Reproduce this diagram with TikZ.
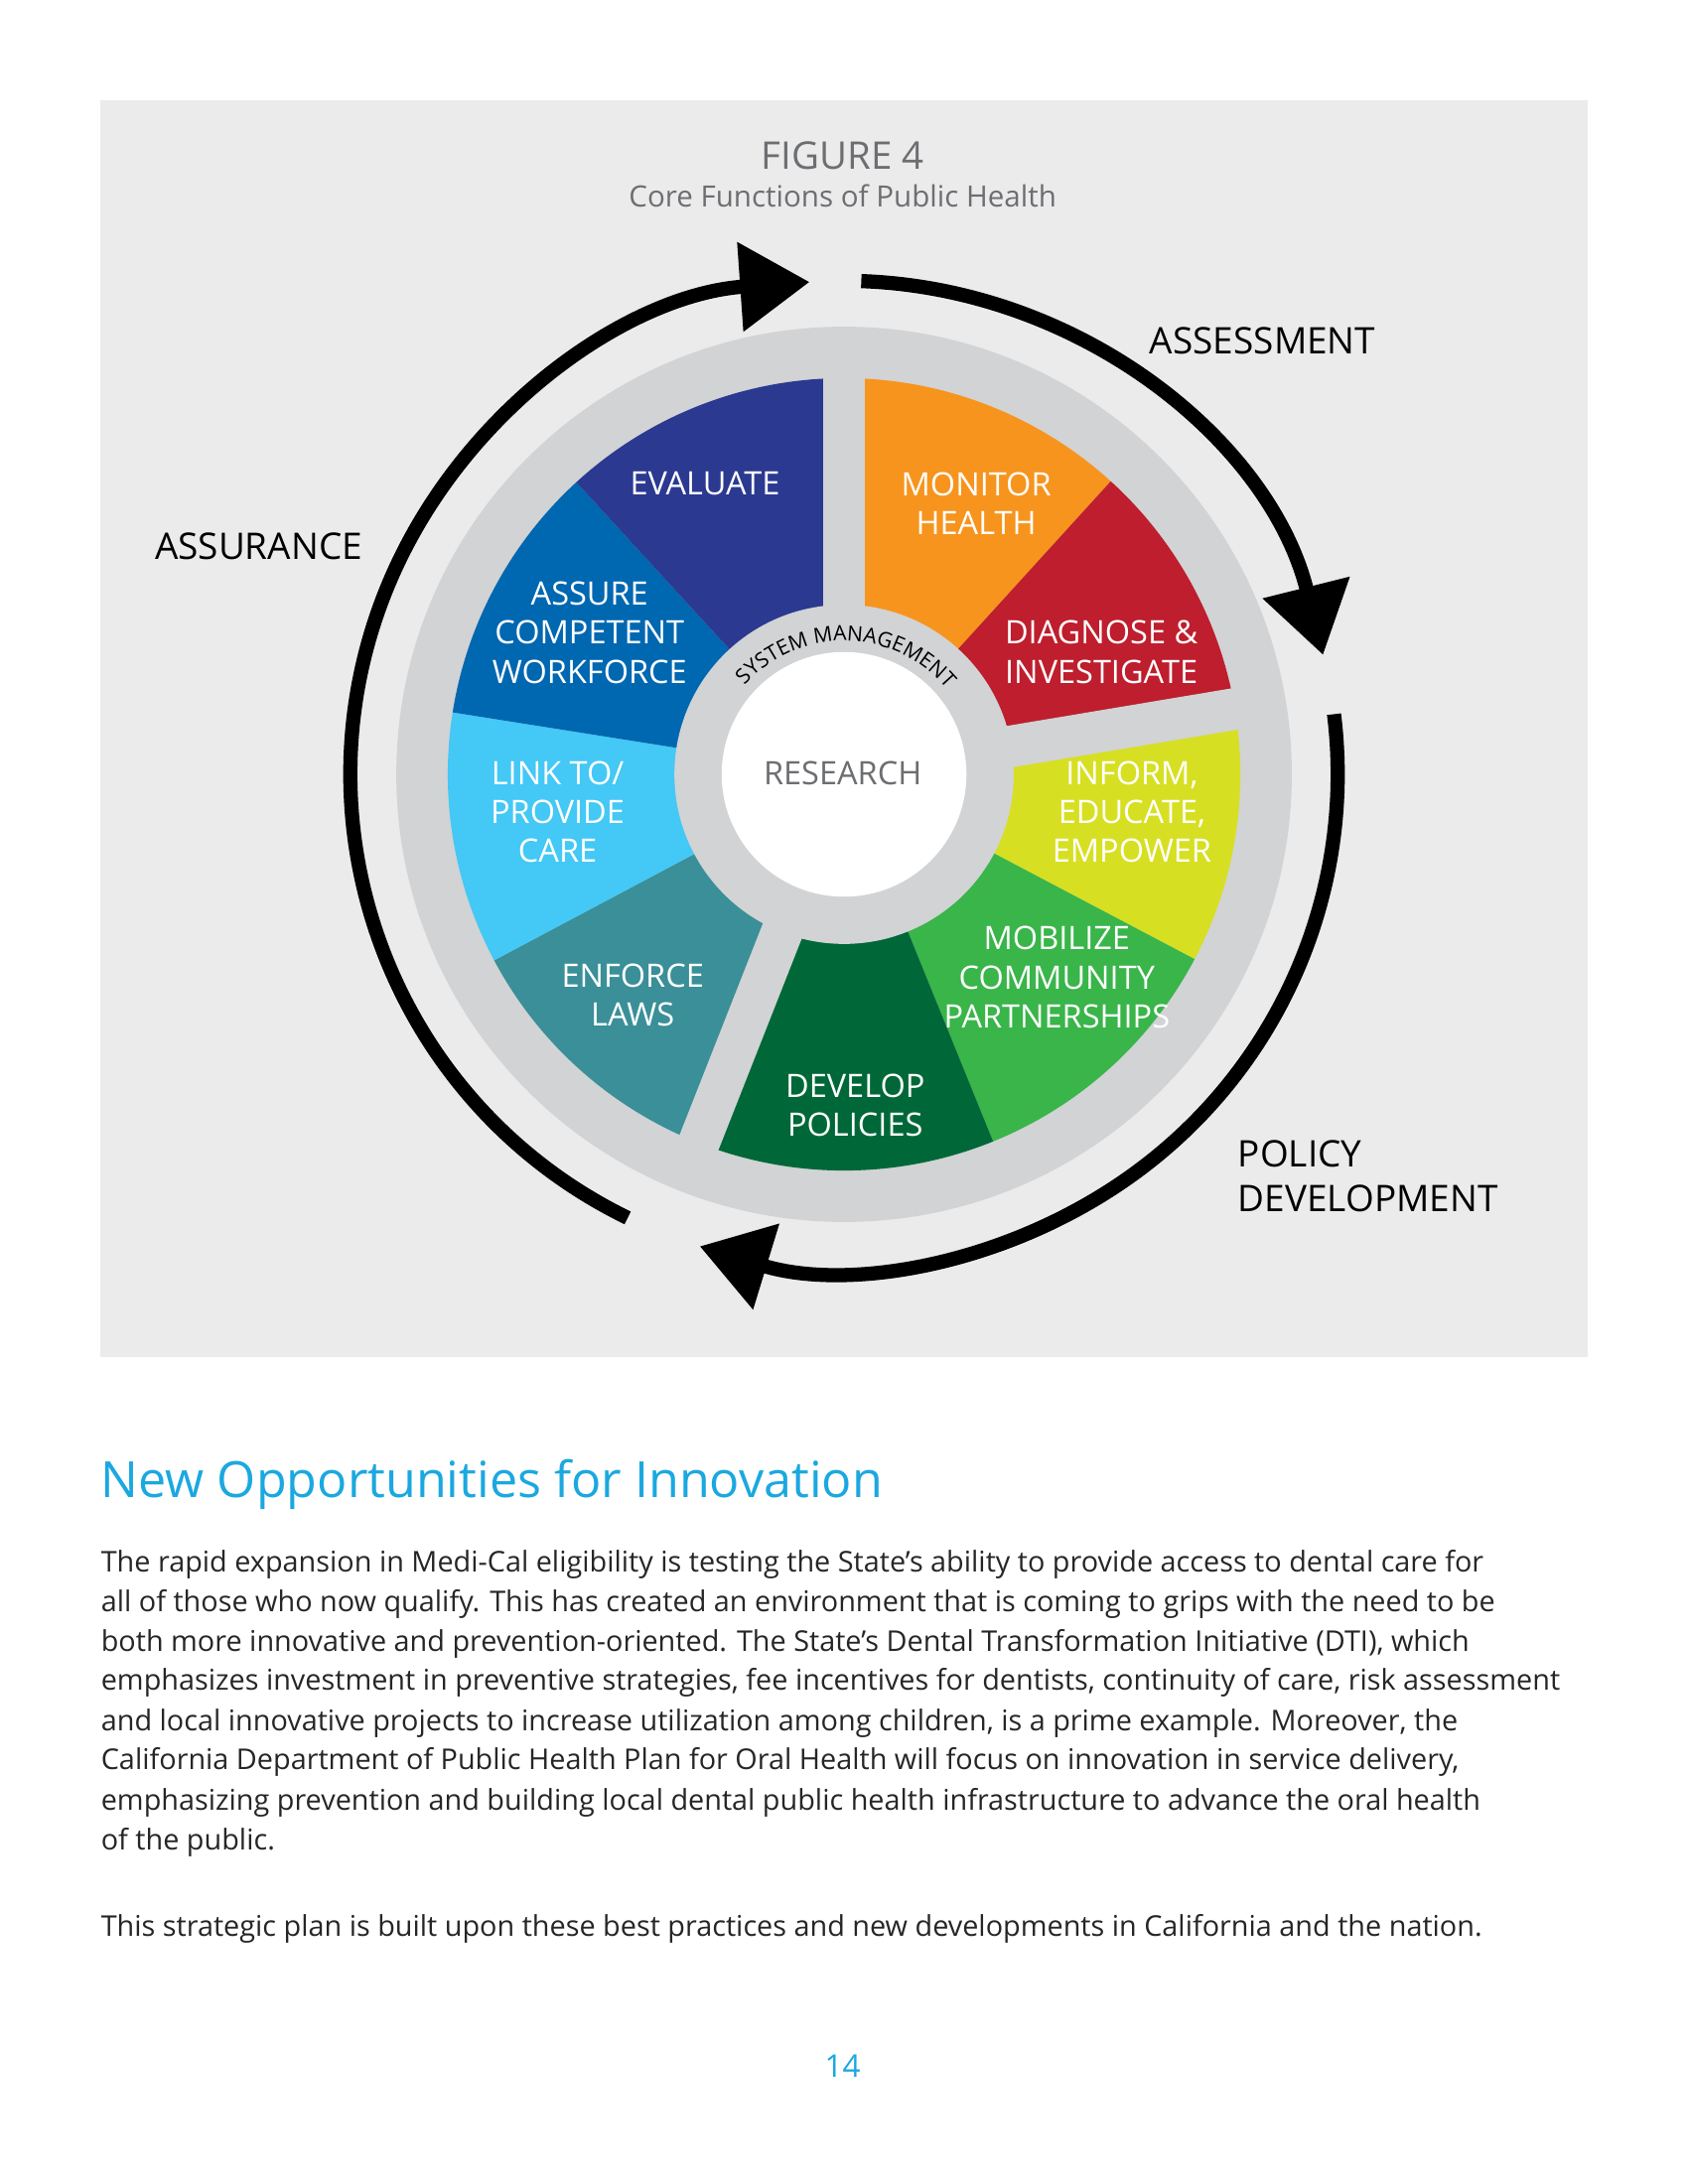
\documentclass[tikz,border=0pt]{standalone}
\usepackage{fontspec}
\setmainfont{Open Sans}
\usetikzlibrary{arrows.meta,decorations.text}
\definecolor{bg}{HTML}{EBEBEC}
\definecolor{ring}{HTML}{D1D3D4}
\definecolor{cEval}{HTML}{2B3990}
\definecolor{cAssure}{HTML}{0067B1}
\definecolor{cLink}{HTML}{44C8F5}
\definecolor{cEnf}{HTML}{3A8F98}
\definecolor{cDev}{HTML}{006838}
\definecolor{cMob}{HTML}{39B54A}
\definecolor{cInf}{HTML}{D7DF23}
\definecolor{cDiag}{HTML}{BE1E2D}
\definecolor{cMon}{HTML}{F7941D}
\definecolor{cyanh}{HTML}{1BA8E0}
\definecolor{txtg}{HTML}{6D6E71}
\newcommand\wheelseg[3]{\fill[#3] (#1:120) arc[start angle=#1,end angle=#2,radius=120] -- (#2:285) arc[start angle=#2,end angle=#1,radius=285] -- cycle;}
\begin{document}
\begin{tikzpicture}[x=0.01cm,y=0.01cm,
  seglab/.style={text=white,align=center,font=\fontsize{6.6}{8}\selectfont},
  phase/.style={text=black,font=\fontsize{7.5}{9.1}\selectfont},
  body/.style={anchor=base west,inner sep=0,font=\fontsize{5.85}{8}\selectfont,text=black!85},
  cyc/.style={line width=2.9pt,-{Triangle[length=0.5cm,width=0.62cm]}}]
\useasboundingbox (0,0) rectangle (1214,-1571);
\fill[white] (0,0) rectangle (1214,-1571);
\fill[bg] (72,-72) rectangle (1142,-976);
\node[text=txtg,font=\fontsize{7.8}{9}\selectfont] (fig) at (606,-112) {FIGURE 4};
\node[text=txtg,font=\fontsize{6}{7}\selectfont] (sub) at (606,-141) {Core Functions of Public Health};
\begin{scope}[shift={(607,-557)}]
  \fill[ring] (0,0) circle[radius=322];
  \wheelseg{47.7}{90}{cMon}
  \wheelseg{9.5}{47.7}{cDiag}
  \wheelseg{-27.8}{9.5}{cInf}
  \wheelseg{-67.9}{-27.8}{cMob}
  \wheelseg{-111.5}{-67.9}{cDev}
  \wheelseg{-152}{-111.5}{cEnf}
  \wheelseg{171}{208}{cLink}
  \wheelseg{132.5}{171}{cAssure}
  \wheelseg{90}{132.5}{cEval}
  \foreach \a in {90,9.5,-111.5} \draw[ring,line width=0.3cm] (0,0) -- (\a:292);
  \fill[ring] (0,0) circle[radius=122];
  \fill[white] (0,0) circle[radius=88];
  \path[decorate,decoration={text along path,text align=center,
     text={|\fontsize{4.3}{5}\selectfont|SYSTEM MANAGEMENT}}]
     (152:96) arc[start angle=152,end angle=26,radius=96];
  \draw[cyc] (88:355) arc[start angle=88,end angle=14,radius=355];
  \draw[cyc] (7:355) arc[start angle=7,end angle=-107,radius=355];
  \draw[cyc] (-116:355) arc[start angle=-116,end angle=-266,radius=355];
\end{scope}
\node[text=txtg,font=\fontsize{6.6}{8}\selectfont] (res) at (606,-556) {RESEARCH};
\node[seglab] (ev) at (507,-348) {EVALUATE};
\node[seglab] (mh) at (702,-362) {MONITOR\\HEALTH};
\node[seglab] (di) at (792,-469) {DIAGNOSE \&\\INVESTIGATE};
\node[seglab] (ie) at (814,-584) {INFORM,\\EDUCATE,\\EMPOWER};
\node[seglab] (mo) at (760,-703) {MOBILIZE\\COMMUNITY\\PARTNERSHIPS};
\node[seglab] (dp) at (615,-795) {DEVELOP\\POLICIES};
\node[seglab] (el) at (455,-716) {ENFORCE\\LAWS};
\node[seglab] (lp) at (401,-584) {LINK TO/\\PROVIDE\\CARE};
\node[seglab] (ac) at (424,-455) {ASSURE\\COMPETENT\\WORKFORCE};
\node[phase] (asr) at (186,-393) {ASSURANCE};
\node[phase] (ass) at (908,-245) {ASSESSMENT};
\node[phase,align=left,anchor=west] (pol) at (878,-846) {POLICY\\DEVELOPMENT};
\node[anchor=base west,inner sep=0,text=cyanh,font=\fontsize{10.2}{12}\selectfont] (h) at (72,-1077) {New Opportunities for Innovation};
\node[body] (l1) at (72,-1131) {The rapid expansion in Medi-Cal eligibility is testing the State’s ability to provide access to dental care for};
\node[body] (l2) at (72,-1159) {all of those who now qualify. This has created an environment that is coming to grips with the need to be};
\node[body] (l3) at (72,-1188) {both more innovative and prevention-oriented. The State’s Dental Transformation Initiative (DTI), which};
\node[body] (l4) at (72,-1216) {emphasizes investment in preventive strategies, fee incentives for dentists, continuity of care, risk assessment};
\node[body] (l5) at (72,-1245) {and local innovative projects to increase utilization among children, is a prime example. Moreover, the};
\node[body] (l6) at (72,-1273) {California Department of Public Health Plan for Oral Health will focus on innovation in service delivery,};
\node[body] (l7) at (72,-1302) {emphasizing prevention and building local dental public health infrastructure to advance the oral health};
\node[body] (l8) at (72,-1331) {of the public.};
\node[body] (l9) at (72,-1393) {This strategic plan is built upon these best practices and new developments in California and the nation.};
\node[text=cyanh,font=\fontsize{6.4}{8}\selectfont] (pg) at (606,-1486) {14};
\end{tikzpicture}
\end{document}
